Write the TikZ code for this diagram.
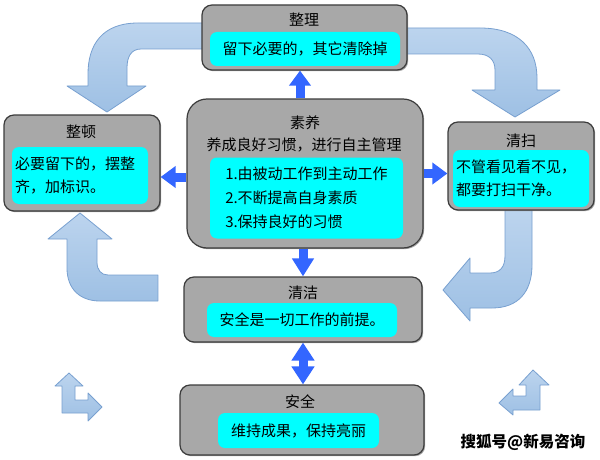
\documentclass[tikz,border=0pt]{standalone}
\usepackage{fontspec}
\setmainfont{Noto Sans CJK SC}
\usetikzlibrary{arrows.meta,shadows}
\definecolor{boxgray}{RGB}{168,168,168}
\definecolor{boxline}{RGB}{60,60,60}
\definecolor{cyanbg}{RGB}{0,255,255}
\definecolor{barblue}{RGB}{51,102,255}
\definecolor{lbtop}{RGB}{188,212,238}
\definecolor{lbbot}{RGB}{158,192,228}
\definecolor{lbline}{RGB}{120,160,208}
\begin{document}
\begin{tikzpicture}[x=1pt,y=-1pt,
  box/.style={draw=boxline, line width=1.2pt, fill=boxgray, rounded corners=10pt, inner sep=0pt,
    drop shadow={shadow xshift=1.2pt, shadow yshift=-1.2pt, fill=black!50, opacity=0.7}},
  ttl/.style={inner sep=0pt, font=\fontsize{15pt}{24pt}\selectfont, text=black},
  cyanbox/.style={fill=cyanbg, rounded corners=7pt, inner sep=0pt, align=left,
    font=\fontsize{15pt}{23pt}\selectfont, text=black},
  barrow/.style={draw=barblue, line width=9pt, -{Triangle[width=21pt,length=15pt]}},
  bdarrow/.style={draw=barblue, line width=9pt, {Triangle[width=22pt,length=18pt]}-{Triangle[width=22pt,length=18pt]}},
  lbarrow/.style={draw=lbline, line width=0.8pt, top color=lbtop, bottom color=lbbot, line join=round}
]
\fill[white] (0,0) rectangle (600,460);
\useasboundingbox (0,0) rectangle (600,460);

% light blue block arrows
\path[lbarrow] (203,23) -- (138,23) .. controls (102,23) and (88,45) .. (88,74) -- (88,86)
  -- (67,86) -- (107,112) -- (146,86) -- (127,86) -- (127,68)
  .. controls (127,57) and (131,49) .. (141,49) -- (203,49) -- cycle;
\path[lbarrow] (407,28) -- (480,28) .. controls (518,28) and (537,48) .. (537,78) -- (537,90)
  -- (560,90) -- (515,117) -- (472,90) -- (495,90) -- (495,70)
  .. controls (495,60) and (489,54) .. (478,54) -- (407,54) -- cycle;
\path[lbarrow] (505,210) -- (505,256) .. controls (505,267) and (500,273) .. (490,273) -- (470,273)
  -- (470,258) -- (443,290) -- (470,321) -- (470,308) -- (492,308)
  .. controls (518,308) and (532,292) .. (532,265) -- (532,210) -- cycle;
\path[lbarrow] (158,275) -- (108,275) .. controls (101,275) and (97,270) .. (97,262) -- (97,239)
  -- (112,239) -- (80,213) -- (48,239) -- (67,239) -- (67,268)
  .. controls (67,289) and (80,301) .. (100,301) -- (158,301) -- cycle;
% small arrows
\path[lbarrow] (62,413) -- (62,386) -- (55,386) -- (69,373) -- (83,386) -- (75,386) -- (75,400)
  -- (88,400) -- (88,393) -- (102,407) -- (88,421) -- (88,413) -- cycle;
\path[lbarrow] (540,410) -- (540,385) -- (549,385) -- (533,370) -- (519,385) -- (526,385) -- (526,396)
  -- (513,396) -- (513,389) -- (499,403) -- (513,415) -- (513,410) -- cycle;

% boxes
\node[box, minimum width=205pt, minimum height=65pt] (zhengli) at (304.5,37.5) {};
\node[box, minimum width=156pt, minimum height=96pt] (zhengdun) at (82,163) {};
\node[box, rounded corners=20pt, minimum width=236pt, minimum height=149pt] (suyang) at (305,173.5) {};
\node[box, minimum width=146pt, minimum height=88pt] (qingsao) at (521,166) {};
\node[box, minimum width=238pt, minimum height=65pt] (qingjie) at (303,309.5) {};
\node[box, minimum width=244pt, minimum height=70pt] (anquan) at (302,420) {};

% titles
\node[ttl] (zhengli-t) at (304,20) {整理};
\node[ttl] (zhengdun-t) at (81,132) {整顿};
\node[ttl] (suyang-t) at (305,123) {素养};
\node[ttl] (suyang-s) at (304,145) {养成良好习惯，进行自主管理};
\node[ttl] (qingsao-t) at (521,141) {清扫};
\node[ttl] (qingjie-t) at (303,293) {清洁};
\node[ttl] (anquan-t) at (300,402) {安全};

% cyan contents
\node[cyanbox, minimum width=190pt, minimum height=34pt] (zhengli-c) at (305,49) {留下必要的，其它清除掉};
\node[cyanbox, text width=130pt, inner xsep=3pt, minimum height=57pt] (zhengdun-c) at (80,175.5) {必要留下的，摆整\\齐，加标识。};
\node[cyanbox, minimum width=193pt, minimum height=81pt, font=\fontsize{15pt}{24pt}\selectfont] (suyang-c) at (306.5,198) {1.由被动工作到主动工作\\2.不断提高自身素质\\3.保持良好的习惯};
\node[cyanbox, text width=130pt, inner xsep=3pt, minimum height=57pt] (qingsao-c) at (521,178.5) {不管看见看不见，\\都要打扫干净。};
\node[cyanbox, minimum width=190pt, minimum height=34pt] (qingjie-c) at (302,320) {安全是一切工作的前提。};
\node[cyanbox, minimum width=161pt, minimum height=35pt] (anquan-c) at (298.5,430.5) {维持成果，保持亮丽};

% blue arrows
\draw[barrow] ([xshift=-5pt]suyang.north) -- ([xshift=-5pt]suyang.north |- zhengli.south);
\draw[barrow] ([yshift=-3.5pt]suyang.west) -- ([yshift=-3.5pt]zhengdun.east |- suyang.west);
\draw[barrow] (suyang.east) -- (qingsao.west |- suyang.east);
\draw[barrow, -{Triangle[width=21pt,length=18pt]}] ([xshift=-2pt]suyang.south) -- (qingjie.north);
\draw[bdarrow] (qingjie.south) -- (qingjie.south |- anquan.north);

% watermark
\node[inner sep=0pt, font=\fontsize{15.5pt}{18pt}\selectfont\bfseries] (wm) at (523,442) {搜狐号@新易咨询};
\end{tikzpicture}
\end{document}
